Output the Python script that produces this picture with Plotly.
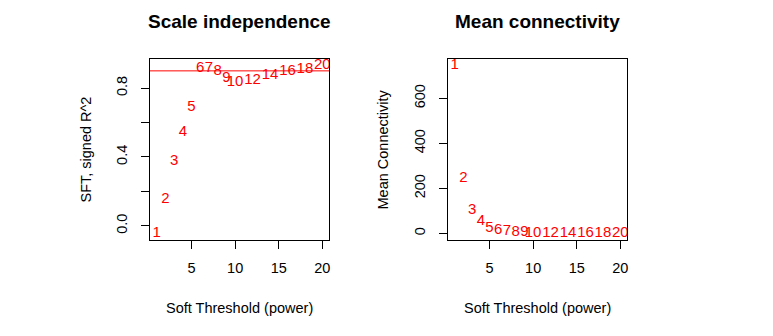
import plotly.graph_objects as go

W, H = 773, 336

powers = [1, 2, 3, 4, 5, 6, 7, 8, 9, 10, 12, 14, 16, 18, 20]
sft_signed_r2 = [-0.043, 0.152, 0.375, 0.541, 0.691, 0.917, 0.917, 0.900, 0.857, 0.833,
                 0.843, 0.872, 0.900, 0.907, 0.930]
mean_connectivity = [745, 244, 104, 52, 25, 14, 8, 5, 3, 2, 1.5, 1, 0.8, 0.6, 0.5]
r2_cutoff = 0.90

left_yticks = [0.0, 0.2, 0.4, 0.6, 0.8]
left_yticklabels = ["0.0", "", "0.4", "", "0.8"]
right_yticks = [0, 200, 400, 600]
right_yticklabels = ["0", "200", "400", "600"]
xticks = [5, 10, 15, 20]

FONT = "Arial, Liberation Sans, sans-serif"

def px_x(p):
    return p / W

def px_y(p):
    return 1 - p / H

def rng(vals, pad=0.04):
    lo, hi = min(vals), max(vals)
    r = hi - lo
    return [lo - pad * r, hi + pad * r]

fig = go.Figure()

fig.add_trace(go.Scatter(x=powers, y=sft_signed_r2, mode="text", text=[str(p) for p in powers],
                         textposition="middle center",
                         textfont=dict(color="#ff0000", size=15, family=FONT),
                         xaxis="x", yaxis="y", showlegend=False, hoverinfo="skip"))
fig.add_trace(go.Scatter(x=powers, y=mean_connectivity, mode="text", text=[str(p) for p in powers],
                         textposition="middle center",
                         textfont=dict(color="#ff0000", size=15, family=FONT),
                         xaxis="x2", yaxis="y2", showlegend=False, hoverinfo="skip"))

L_x0, L_x1 = 150, 329
R_x0, R_x1 = 448, 627
Y_top, Y_bot = 59, 240

axis_common = dict(showline=True, linecolor="black", linewidth=1, mirror=True,
                   ticks="outside", ticklen=8, tickcolor="black", tickwidth=1,
                   showgrid=False, zeroline=False,
                   tickfont=dict(family=FONT, size=14.5, color="black"))

fig.update_layout(
    width=W, height=H, margin=dict(l=0, r=0, t=0, b=0),
    paper_bgcolor="white", plot_bgcolor="white",
    xaxis=dict(domain=[px_x(L_x0), px_x(L_x1)], range=rng(powers), tickvals=xticks,
               anchor="y", ticklabelstandoff=7, **axis_common),
    yaxis=dict(domain=[px_y(Y_bot), px_y(Y_top)], range=rng(sft_signed_r2), tickvals=left_yticks,
               ticktext=left_yticklabels, tickangle=-90, anchor="x", ticklabelstandoff=8,
               **axis_common),
    xaxis2=dict(domain=[px_x(R_x0), px_x(R_x1)], range=rng(powers), tickvals=xticks,
                anchor="y2", ticklabelstandoff=7, **axis_common),
    yaxis2=dict(domain=[px_y(Y_bot), px_y(Y_top)], range=rng(mean_connectivity), tickvals=right_yticks,
                ticktext=right_yticklabels, tickangle=-90, anchor="x2", ticklabelstandoff=8,
                **axis_common),
)

fig.add_shape(type="line", xref="x domain", yref="y", x0=0, x1=1, y0=r2_cutoff, y1=r2_cutoff,
              line=dict(color="#ff0000", width=1))

def ann(text, x, y, size=14.5, bold=False, angle=0):
    fig.add_annotation(text=("<b>%s</b>" % text) if bold else text,
                       x=px_x(x), y=px_y(y), xref="paper", yref="paper",
                       xanchor="center", yanchor="middle", showarrow=False, textangle=angle,
                       font=dict(family=FONT, size=size, color="black"))

ann("Scale independence", (L_x0 + L_x1) / 2, 21, size=19, bold=True)
ann("Mean connectivity", (R_x0 + R_x1) / 2, 21, size=19, bold=True)
ann("Soft Threshold (power)", (L_x0 + L_x1) / 2, 308)
ann("Soft Threshold (power)", (R_x0 + R_x1) / 2, 308)
ann("SFT, signed R^2", 85, (Y_top + Y_bot) / 2, angle=-90)
ann("Mean Connectivity", 382, (Y_top + Y_bot) / 2, angle=-90)

fig.write_html("out.html")
